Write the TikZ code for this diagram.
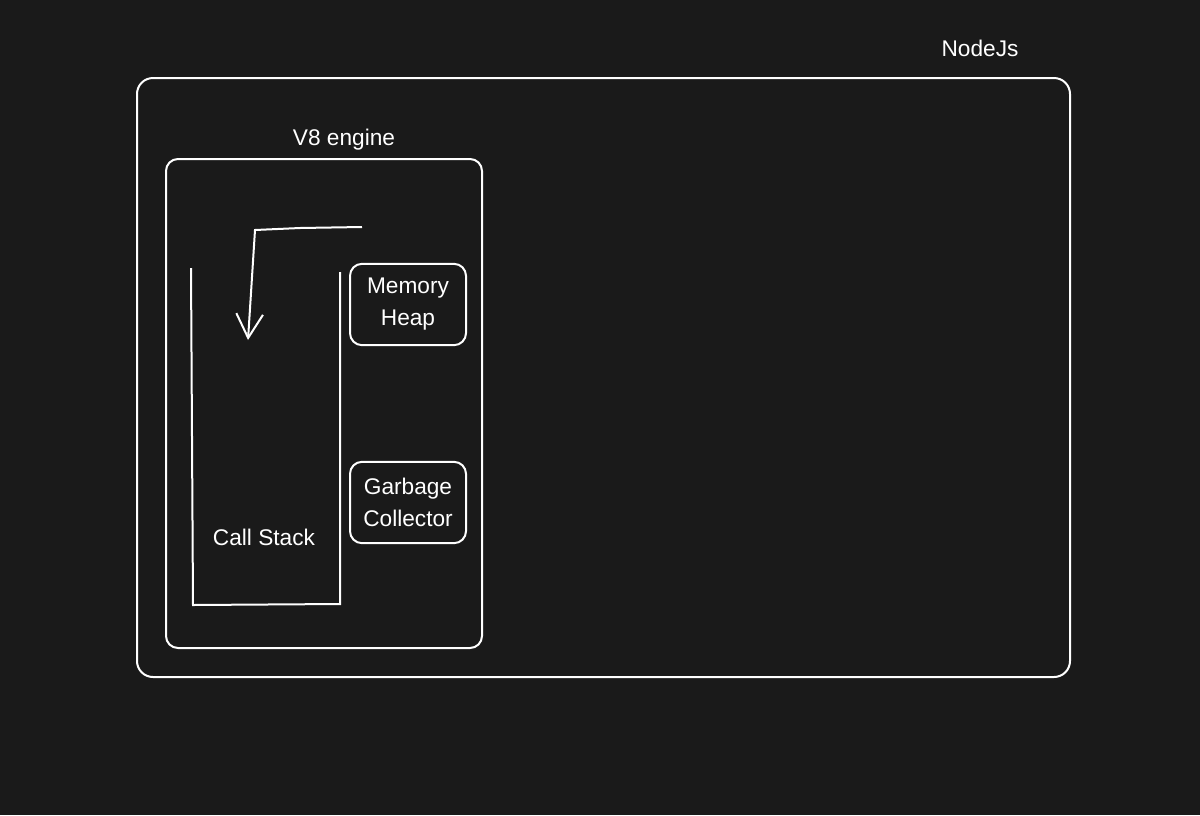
\documentclass[tikz,border=0pt]{standalone}
\usepackage{fontspec}
\setmainfont{Liberation Sans}
\usetikzlibrary{arrows.meta}
\definecolor{bg}{HTML}{1A1A1A}
\begin{document}
\begin{tikzpicture}[x=0.75pt,y=-0.75pt,
  every node/.style={text=white,font=\fontsize{17}{24}\selectfont},
  box/.style={draw=white,line width=1.5pt,rounded corners=9pt},
  ln/.style={draw=white,line width=1.5pt}]
\fill[bg] (0,0) rectangle (1200,815);
\useasboundingbox (0,0) rectangle (1200,815);
\draw[box,rounded corners=12pt] (137,78) rectangle (1070,677);
\node (nodejs) at (980,48) {NodeJs};
\draw[box] (166,159) rectangle (482,648);
\node (v8) at (344,140) {V8 engine};
\draw[ln] (191,268) -- (193,605) -- (340,604) -- (340,272);
\node (cs) at (264,537) {Call Stack};
\node[box,minimum width=87pt,minimum height=61pt,align=center] (mh) at (408,304.5) {Memory\\Heap};
\node[box,minimum width=87pt,minimum height=61pt,align=center] (gc) at (408,502.5) {Garbage\\Collector};
\coordinate (a0) at (362,227);
\coordinate (a1) at (248,340);
\draw[ln,-{Straight Barb[length=18pt,width=20pt]}] (a0) -- (300,228) -- (255,230) -- (a1);
\end{tikzpicture}
\end{document}
